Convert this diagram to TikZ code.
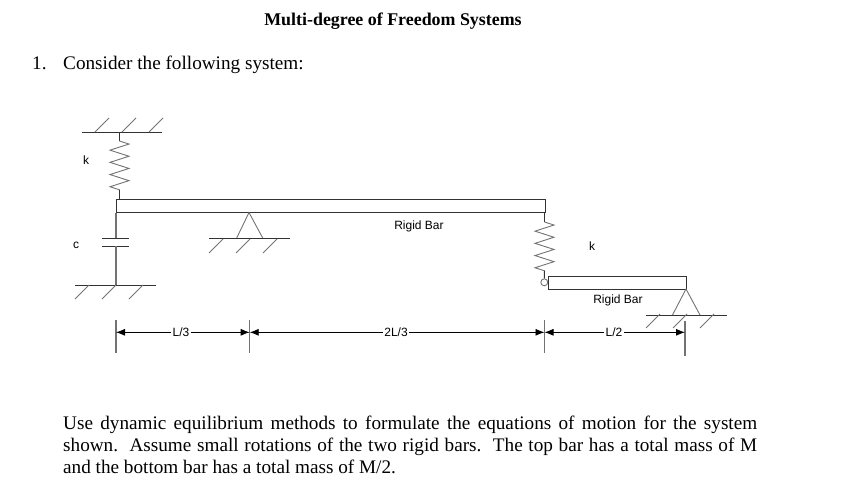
\documentclass[tikz,border=0pt]{standalone}
\usepackage{fontspec}
\setmainfont{Liberation Serif}
\setsansfont{Liberation Sans}
\usetikzlibrary{positioning}
\usetikzlibrary{decorations.pathmorphing}
\usetikzlibrary{arrows.meta}
\tikzset{
    line/.style={draw=black!80,line width=1pt},
    ground/.style={draw=black!80,line width=1pt},
    hatch/.style={draw=black!55,line width=0.9pt},
    spring/.style={draw=black!55,line width=0.9pt,decorate,
        decoration={zigzag,segment length=12.2pt,amplitude=9.5pt}},
    tick/.style={draw=black!55,line width=1.3pt},
    dim/.style={draw=black,line width=0.8pt,-{Latex[length=9pt,width=7pt]}},
    lbl/.style={font=\sffamily\fontsize{12}{14}\selectfont,inner sep=1.5pt,fill=white},
    body/.style={font=\fontsize{19.2}{21.8}\selectfont,anchor=base west,inner sep=0pt},
}
\begin{document}
\begin{tikzpicture}[x=1pt,y=-1pt]
    \useasboundingbox (0,0) rectangle (845,487);

    % Text
    \node[font=\bfseries\fontsize{17.9}{20}\selectfont,anchor=base,inner sep=0pt] (title) at (393,26) {Multi-degree of Freedom Systems};
    \node[body] (num) at (32,69) {1.};
    \node[body] (intro) at (63,69) {Consider the following system:};
    \node[body,text width=694pt,align=justify,anchor=north west] (question) at (63,416) {Use dynamic equilibrium methods to formulate the equations of motion for the system\linebreak shown.\ \ Assume small rotations of the two rigid bars.\ \ The top bar has a total mass of M\linebreak and the bottom bar has a total mass of M/2.};

    % Top bar
    \draw[line,fill=white] (116,199) rectangle (545,212.5);
    \coordinate (topL) at (116,212.5);
    \coordinate (topS) at (119.5,199);
    \coordinate (topR) at (544.5,212.5);

    % Upper ground and spring
    \coordinate (gndA) at (119.5,132);
    \draw[ground] (82,132) -- (162,132);
    \foreach \i in {95,122,149} {
        \draw[hatch] (\i,132) -- ++(14,-14);
    }
    \coordinate (sprA) at (119.5,141);
    \coordinate (sprB) at (119.5,189.8);
    \draw[line] (gndA) -- (sprA);
    \draw[spring] (sprA) -- (sprB);
    \draw[line] (sprB) -- (topS);
    \node[lbl] (kA) at (86,160) {k};

    % Damper
    \coordinate (dmpA) at (116,238.3);
    \coordinate (dmpB) at (116,246.3);
    \coordinate (gndB) at (116,285);
    \draw[tick] (topL) -- (dmpA);
    \draw[line] (102,238.3) -- (129,238.3);
    \draw[line] (102,246.3) -- (129,246.3);
    \draw[tick] (dmpB) -- (gndB);
    \draw[ground] (75,285) -- (156,285);
    \foreach \i in {75,102,129} {
        \draw[hatch] (\i,299) -- ++(14,-14);
    }
    \node[lbl] (c) at (76,245) {c};

    % Middle pivot
    \draw[hatch] (236.7,238) -- (249,212.5) -- (262.7,238);
    \draw[ground] (209,238.3) -- (290,238.3);
    \foreach \i in {209,236,263} {
        \draw[hatch] (\i,253) -- ++(14,-14);
    }
    \node[lbl,fill=none] (barA) at (419,226.5) {Rigid Bar};

    % Right spring
    \coordinate (sprC) at (544.5,222);
    \coordinate (sprD) at (544.5,270.8);
    \draw[line] (topR) -- (sprC);
    \draw[spring] (sprC) -- (sprD);
    \node[circle,draw=black!55,line width=0.9pt,minimum size=7pt,inner sep=0pt] (hinge) at (544.3,282.3) {};
    \draw[line] (sprD) -- (hinge);
    \node[lbl] (kB) at (592,246) {k};

    % Lower bar and pivot
    \draw[line,fill=white] (548,276.5) rectangle (686,289);
    \draw[hatch] (672.5,315) -- (686,289) -- (700,315);
    \draw[ground] (646,315) -- (727,315);
    \foreach \i in {646,673,700} {
        \draw[hatch] (\i,328) -- ++(14,-14);
    }
    \node[lbl,fill=none] (barB) at (618,300.5) {Rigid Bar};

    % Dimensions
    \foreach \i in {116,249.7,544.5} {
        \draw[tick] (\i,320) -- (\i,353);
    }
    \draw[tick] (685,321) -- (685,356);
    \coordinate (dimA) at (116,332.3);
    \coordinate (dimB) at (249.7,332.3);
    \coordinate (dimC) at (544.5,332.3);
    \coordinate (dimD) at (685,332.3);
    \node[lbl] (lenA) at (181,332.3) {L/3};
    \node[lbl] (lenB) at (396,332.3) {2L/3};
    \node[lbl] (lenC) at (614,332.3) {L/2};
    \draw[dim] (lenA) -- (dimA);
    \draw[dim] (lenA) -- (dimB);
    \draw[dim] (lenB) -- (dimB);
    \draw[dim] (lenB) -- (dimC);
    \draw[dim] (lenC) -- (dimC);
    \draw[dim] (lenC) -- (dimD);
\end{tikzpicture}
\end{document}
